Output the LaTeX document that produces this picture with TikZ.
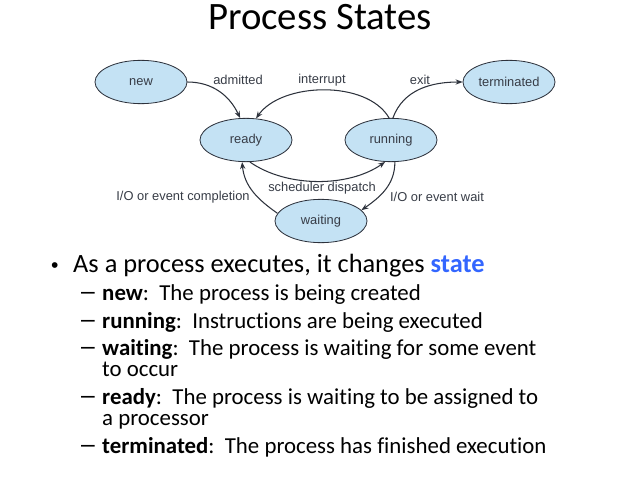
\documentclass[tikz,border=0pt]{standalone}
\usepackage{fontspec}
\setmainfont{Carlito}[Ligatures=NoCommon]
\newfontfamily\diagfont{Liberation Sans}
\usetikzlibrary{positioning,shapes.geometric,arrows.meta}
\definecolor{statefill}{RGB}{196,226,244}
\definecolor{stateline}{RGB}{45,50,60}
\definecolor{labelgray}{RGB}{55,60,70}
\definecolor{keyblue}{RGB}{51,102,255}

\begin{document}
\begin{tikzpicture}[x=0.03cm, y=0.03cm,
  pstate/.style={shape=ellipse, draw=stateline, fill=statefill, line width=0.7pt,
    minimum width=2.76cm, minimum height=1.3cm, inner sep=0pt,
    font=\diagfont\fontsize{11}{13}\selectfont, text=labelgray},
  trans/.style={font=\diagfont\fontsize{11}{13}\selectfont, text=labelgray},
  move/.style={draw=stateline, line width=0.9pt, -{Stealth[length=6pt,width=4.5pt]}},
  item/.style={anchor=base west, inner sep=0pt, font=\fontsize{19.5}{23}\selectfont},
  itemdash/.style={anchor=base west, inner sep=0pt, font=\diagfont\fontsize{21}{24}\selectfont}]
\useasboundingbox (0,0) rectangle (638,-478);

\node[anchor=base, font=\fontsize{33.1}{38}\selectfont] (title) at (320,-30) {Process States};

% the state diagram
\node[pstate] (new) at (141,-82) {new};
\node[pstate] (terminated) at (509,-82) {terminated};
\node[pstate] (ready) at (246,-140) {ready};
\node[pstate] (running) at (391,-140) {running};
\node[pstate] (waiting) at (321,-221) {waiting};

\node[trans] (admitted) at (238,-80) {admitted};
\node[trans] (interrupt) at (322,-80) {interrupt};
\node[trans] (exit) at (420,-80) {exit};
\node[trans] (dispatch) at (322,-188) {scheduler dispatch};
\node[trans] (completion) at (183,-197) {I/O or event completion};
\node[trans] (wait) at (437,-197) {I/O or event wait};

\draw[move] (new.east) to[out=0, in=115] (ready.105);
\draw[move] (running.95) to[out=120, in=55, looseness=0.85] (ready.65);
\draw[move] (running.85) to[out=70, in=180] (terminated.west);
\draw[move] (ready.-80) to[out=-35, in=-145, looseness=0.85] (running.-105);
\draw[move] (running.-80) to[out=-90, in=35] (waiting.15);
\draw[move] (waiting.170) to[out=145, in=-85] (ready.-100);

% the bullet list
\node[anchor=base west, inner sep=0pt, font=\diagfont\fontsize{18}{20}\selectfont] (dot) at (51,-272) {•};
\node[anchor=base west, inner sep=0pt, font=\fontsize{22.5}{27}\selectfont] (intro) at (73,-272)
  {As a process executes, it changes \textcolor{keyblue}{\textbf{state}}};

\node[itemdash] (dashnew) at (81,-299.5) {–};
\node[item] (itemnew) at (102,-300) {\textbf{new}:\ \ The process is being created};
\node[itemdash] (dashrunning) at (81,-327.5) {–};
\node[item] (itemrunning) at (102,-328) {\textbf{running}:\ \ Instructions are being executed};
\node[itemdash] (dashwaiting) at (81,-354.5) {–};
\node[item, text depth=0pt] (itemwaiting) at (102,-355) {\textbf{waiting}:\ \ The process is waiting for some event};
\node[item, text height=0.6em] (itemwaiting2) at (102,-376) {to occur};
\node[itemdash] (dashready) at (81,-403.5) {–};
\node[item, text depth=0pt] (itemready) at (102,-404) {\textbf{ready}:\ \ The process is waiting to be assigned to};
\node[item, text height=0.6em] (itemready2) at (102,-425) {a processor};
\node[itemdash] (dashterminated) at (81,-452.5) {–};
\node[item] (itemterminated) at (102,-453) {\textbf{terminated}:\ \ The process has finished execution};
\end{tikzpicture}
\end{document}
